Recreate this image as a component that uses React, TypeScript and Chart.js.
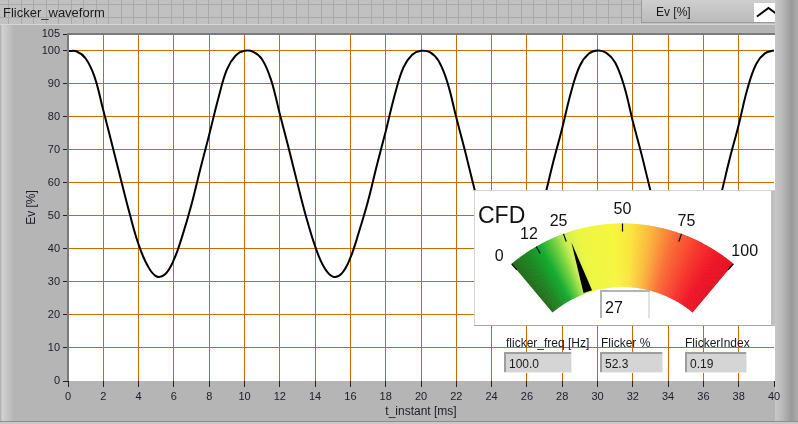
import React, { useEffect, useRef } from "react";
import { Chart, registerables } from "chart.js";

Chart.register(...registerables);

// ---------------- data ----------------
const timeMs = [
  0, 0.5, 1, 1.5, 2, 2.5, 3, 3.5, 4, 4.5,
  5, 5.5, 6, 6.5, 7, 7.5, 8, 8.5, 9, 9.5,
  10, 10.5, 11, 11.5, 12, 12.5, 13, 13.5, 14, 14.5,
  15, 15.5, 16, 16.5, 17, 17.5, 18, 18.5, 19, 19.5,
  20, 20.5, 21, 21.5, 22, 22.5, 23, 23.5, 24, 24.5,
  25, 25.5, 26, 26.5, 27, 27.5, 28, 28.5, 29, 29.5,
  30, 30.5, 31, 31.5, 32, 32.5, 33, 33.5, 34, 34.5,
  35, 35.5, 36, 36.5, 37, 37.5, 38, 38.5, 39, 39.5,
  40,
];
const evPercent = [
  99.85, 99.7, 97.6, 92.1, 81.9, 71.5, 60.9, 50.5, 41.3, 35.0,
  31.7, 32.3, 36.7, 44.3, 53.5, 64.2, 74.5, 85.2, 94.2, 98.5,
  99.9, 99.6, 97.3, 91.2, 80.8, 70.5, 59.8, 49.5, 40.8, 34.5,
  31.6, 32.5, 37.3, 45.4, 54.5, 65.3, 75.5, 86.3, 94.8, 98.7,
  99.9, 99.5, 96.8, 90.3, 79.7, 69.5, 58.7, 48.5, 40.1, 34.0,
  31.6, 32.8, 37.9, 45.6, 55.5, 66.4, 76.5, 87.4, 95.4, 99.0,
  100, 99.3, 96.4, 89.4, 78.6, 68.5, 57.6, 47.5, 39.2, 33.5,
  31.5, 33.0, 38.5, 46.5, 56.5, 67.5, 77.5, 88.5, 96.0, 99.2,
  100,
];
const xTickValues = [0, 2, 4, 6, 8, 10, 12, 14, 16, 18, 20, 22, 24, 26, 28, 30, 32, 34, 36, 38, 40];
const yTickValues = [0, 10, 20, 30, 40, 50, 60, 70, 80, 90, 100, 105];

const chartTitle = "Flicker_waveform";
const legendLabel = "Ev [%]";
const xAxisTitle = "t_instant [ms]";
const yAxisTitle = "Ev [%]";

const gaugeTitle = "CFD";
const gaugeValue = 27;
const gaugeTickValues = [0, 12.5, 25, 50, 75, 100];
const gaugeTickLabels = ["0", "12", "25", "50", "75", "100"];

const readoutLabels = ["flicker_freq [Hz]", "Flicker %", "FlickerIndex"];
const readoutValues = ["100.0", "52.3", "0.19"];

// ---------------- styling ----------------
const W = 798;
const H = 424;
const FONT = '"Liberation Sans", Arial, sans-serif';
const GRID = "#cc6a00";
const TEXT = "#1c1c2a";

const gaugeColorStops: [number, number[]][] = [
  [0, [36, 108, 30]],
  [7, [30, 135, 34]],
  [14, [20, 172, 50]],
  [20, [110, 208, 62]],
  [25, [205, 238, 84]],
  [31, [236, 246, 66]],
  [46, [246, 246, 62]],
  [54, [250, 228, 62]],
  [62, [250, 184, 62]],
  [72, [250, 112, 56]],
  [82, [248, 62, 46]],
  [92, [240, 22, 40]],
  [100, [228, 20, 36]],
];

function gaugeColor(v: number) {
  for (let i = 0; i < gaugeColorStops.length - 1; i++) {
    const [v0, c0] = gaugeColorStops[i];
    const [v1, c1] = gaugeColorStops[i + 1];
    if (v >= v0 && v <= v1) {
      const t = (v - v0) / (v1 - v0);
      const c = c0.map((x, k) => Math.round(x + (c1[k] - x) * t));
      return `rgb(${c[0]},${c[1]},${c[2]})`;
    }
  }
  const c = gaugeColorStops[gaugeColorStops.length - 1][1];
  return `rgb(${c[0]},${c[1]},${c[2]})`;
}

const G = { cx: 622.5, cy: 396, rOut: 172.5, rIn: 109 };
function gAngle(v: number) {
  return ((-130 + (80 * v) / 100) * Math.PI) / 180;
}

function bevelBox(ctx: CanvasRenderingContext2D, x: number, y: number, w: number, h: number, fill: string) {
  ctx.fillStyle = fill;
  ctx.fillRect(x, y, w, h);
  ctx.fillStyle = "#9e9e9e";
  ctx.fillRect(x, y, w, 2);
  ctx.fillRect(x, y, 2, h);
  ctx.fillStyle = "#ececec";
  ctx.fillRect(x, y + h - 1, w, 1);
  ctx.fillRect(x + w - 1, y, 1, h);
}

const labviewPlugin = {
  id: "labview",
  beforeDraw(chart: any) {
    const ctx: CanvasRenderingContext2D = chart.ctx;
    const a = chart.chartArea;
    ctx.save();
    ctx.fillStyle = "#b5b5b5";
    ctx.fillRect(0, 0, W, H);
    ctx.fillStyle = "#c1c1c1";
    ctx.fillRect(0, 0, W, 24);
    ctx.fillStyle = "#a9a9a9";
    for (let x = 8; x < 641; x += 12.5) ctx.fillRect(Math.round(x), 0, 1, 24);
    for (let y = 4; y < 24; y += 12.5) ctx.fillRect(0, Math.round(y), 641, 1);
    const lg = ctx.createLinearGradient(0, 0, 0, 24);
    lg.addColorStop(0, "#cfcfcf");
    lg.addColorStop(1, "#b9b9b9");
    ctx.fillStyle = lg;
    ctx.fillRect(641, 0, 150, 23);
    ctx.fillStyle = "#9a9a9a";
    ctx.fillRect(641, 0, 1, 23);
    ctx.fillRect(641, 22, 150, 1);
    ctx.fillStyle = "#ffffff";
    ctx.fillRect(754, 3, 29, 19);
    ctx.strokeStyle = "#000";
    ctx.lineWidth = 2;
    ctx.beginPath();
    ctx.moveTo(757, 16.5);
    ctx.lineTo(768.5, 8);
    ctx.lineTo(780, 16.5);
    ctx.stroke();
    ctx.fillStyle = "#d6d6d6";
    ctx.fillRect(0, 24, 776, 1);
    const lb = ctx.createLinearGradient(0, 0, 14, 0);
    lb.addColorStop(0, "#a8a8a8");
    lb.addColorStop(0.15, "#d2d2d2");
    lb.addColorStop(0.5, "#c6c6c6");
    lb.addColorStop(1, "#b5b5b5");
    ctx.fillStyle = lb;
    ctx.fillRect(0, 25, 14, H - 25);
    const rb = ctx.createLinearGradient(775, 0, 798, 0);
    rb.addColorStop(0, "#c9c9c9");
    rb.addColorStop(0.3, "#bababa");
    rb.addColorStop(0.72, "#9a9a9a");
    rb.addColorStop(1, "#acacac");
    ctx.fillStyle = rb;
    ctx.fillRect(775, 0, 23, H);
    ctx.fillStyle = "#8e8e8e";
    ctx.fillRect(0, 421, 798, 1);
    ctx.fillStyle = "#c8c8c8";
    ctx.fillRect(0, 422, 798, 2);
    ctx.fillStyle = "#ffffff";
    ctx.fillRect(a.left, a.top, a.right - a.left + 1, a.bottom - a.top);
    ctx.fillStyle = "#1a1a1a";
    ctx.font = `13px ${FONT}`;
    ctx.textBaseline = "alphabetic";
    ctx.textAlign = "left";
    ctx.fillText(chartTitle, 3, 17);
    ctx.font = `12px ${FONT}`;
    ctx.fillText(legendLabel, 656, 16);
    ctx.restore();
  },
  afterDatasetsDraw(chart: any) {
    const ctx: CanvasRenderingContext2D = chart.ctx;
    const a = chart.chartArea;
    ctx.save();
    ctx.fillStyle = "#7a7a7a";
    ctx.fillRect(a.left - 1, a.top - 1, a.right - a.left + 2, 2);
    ctx.fillRect(a.left - 1, a.top - 1, 2, a.bottom - a.top + 1);

    // gauge panel
    ctx.fillStyle = "#ffffff";
    ctx.fillRect(474, 190, 301, 136);
    ctx.fillStyle = "#d4d4d4";
    ctx.fillRect(474, 190, 301, 1);
    ctx.fillRect(474, 190, 1, 136);
    ctx.fillStyle = "#a6a6a6";
    ctx.fillRect(474, 325, 301, 1);
    ctx.fillStyle = "#c0c0c0";
    ctx.fillRect(771, 191, 4, 135);

    const N = 260;
    const aEnd = gAngle(100);
    for (let i = 0; i < N; i++) {
      const v0 = (i / N) * 100;
      const v1 = ((i + 1) / N) * 100;
      const a0 = gAngle(v0);
      const a1 = Math.min(gAngle(v1) + 0.004, aEnd);
      ctx.beginPath();
      ctx.arc(G.cx, G.cy, G.rOut, a0, a1);
      ctx.arc(G.cx, G.cy, G.rIn, a1, a0, true);
      ctx.closePath();
      ctx.fillStyle = gaugeColor((v0 + v1) / 2);
      ctx.fill();
    }
    ctx.strokeStyle = "#000";
    ctx.lineWidth = 1.2;
    ctx.fillStyle = "#111";
    ctx.font = `16px ${FONT}`;
    ctx.textAlign = "center";
    ctx.textBaseline = "middle";
    gaugeTickValues.forEach((v, i) => {
      const ang = gAngle(v);
      const c = Math.cos(ang);
      const s = Math.sin(ang);
      ctx.beginPath();
      ctx.moveTo(G.cx + c * G.rOut, G.cy + s * G.rOut);
      ctx.lineTo(G.cx + c * (G.rOut - 8), G.cy + s * (G.rOut - 8));
      ctx.stroke();
      const r = 187;
      let dx = 0;
      let dy = 1;
      if (v === 0) { dx = -3; dy = 4; }
      if (v === 100) { dx = 2; dy = -1; }
      ctx.fillText(gaugeTickLabels[i], G.cx + c * r + dx, G.cy + s * r + dy);
    });
    const na = gAngle(gaugeValue);
    const nc = Math.cos(na);
    const ns = Math.sin(na);
    const px = -ns;
    const py = nc;
    ctx.fillStyle = "#000";
    ctx.beginPath();
    ctx.moveTo(G.cx + nc * 162, G.cy + ns * 162);
    ctx.lineTo(G.cx + nc * (G.rIn + 1) + px * 4.5, G.cy + ns * (G.rIn + 1) + py * 4.5);
    ctx.lineTo(G.cx + nc * (G.rIn + 1) - px * 4.5, G.cy + ns * (G.rIn + 1) - py * 4.5);
    ctx.closePath();
    ctx.fill();
    ctx.textAlign = "left";
    ctx.textBaseline = "alphabetic";
    ctx.fillStyle = "#111";
    ctx.font = `23px ${FONT}`;
    ctx.fillText(gaugeTitle, 478, 223);
    ctx.fillStyle = "#ffffff";
    ctx.fillRect(600, 290, 50, 28);
    ctx.fillStyle = "#b4b4b4";
    ctx.fillRect(600, 290, 50, 2);
    ctx.fillRect(600, 290, 2, 28);
    ctx.fillStyle = "#e2e2e2";
    ctx.fillRect(648, 292, 2, 26);
    ctx.fillStyle = "#111";
    ctx.font = `16px ${FONT}`;
    ctx.fillText(String(gaugeValue), 605, 313);

    const lx = [506, 601, 685];
    const bx = [504, 600, 685];
    const bw = [68, 63, 62];
    ctx.font = `12px ${FONT}`;
    readoutLabels.forEach((t, i) => {
      ctx.fillStyle = "#1a1a1a";
      ctx.fillText(t, lx[i], 347);
      bevelBox(ctx, bx[i], 352, bw[i], 21, "#d5d5d5");
      ctx.fillStyle = "#1a1a1a";
      ctx.fillText(readoutValues[i], bx[i] + 5, 368);
    });

    ctx.fillStyle = TEXT;
    ctx.font = `12px ${FONT}`;
    ctx.textAlign = "center";
    ctx.textBaseline = "middle";
    ctx.fillText(xAxisTitle, (a.left + a.right) / 2, 412);
    ctx.save();
    ctx.translate(32, (a.top + a.bottom) / 2);
    ctx.rotate(-Math.PI / 2);
    ctx.fillText(yAxisTitle, 0, 0);
    ctx.restore();
    ctx.restore();
  },
};

export default function App() {
  const ref = useRef<HTMLCanvasElement | null>(null);
  useEffect(() => {
    if (!ref.current) return;
    const hide = (vals: number[]) => (c: any) =>
      c.tick && vals.includes(c.tick.value) ? "rgba(0,0,0,0)" : GRID;
    const chart = new Chart(ref.current, {
      type: "line",
      data: {
        datasets: [
          {
            label: legendLabel,
            data: timeMs.map((t, i) => ({ x: t, y: evPercent[i] })),
            borderColor: "#000",
            borderWidth: 2,
            pointRadius: 0,
            fill: false,
            tension: 0.4,
          },
        ],
      },
      options: {
        responsive: false,
        animation: false,
        devicePixelRatio: 1,
        layout: { padding: { top: 34, right: 24, left: 0, bottom: 0 } },
        plugins: {
          legend: { display: false },
          tooltip: { enabled: false },
          title: { display: false },
        },
        scales: {
          x: {
            type: "linear",
            min: 0,
            max: 40,
            afterBuildTicks: (s: any) => {
              s.ticks = xTickValues.map((v) => ({ value: v }));
            },
            afterFit: (s: any) => {
              s.height = 43;
            },
            grid: { color: hide([0, 40]), tickColor: "#222", tickLength: 6, lineWidth: 1 },
            border: { display: false },
            ticks: {
              color: TEXT,
              font: { family: FONT, size: 11 },
              padding: 3,
              maxRotation: 0,
              autoSkip: false,
            },
          },
          y: {
            type: "linear",
            min: 0,
            max: 105,
            afterBuildTicks: (s: any) => {
              s.ticks = yTickValues.map((v) => ({ value: v }));
            },
            afterFit: (s: any) => {
              s.width = 68;
            },
            grid: { color: hide([0, 105]), tickColor: "#222", tickLength: 5, lineWidth: 1 },
            border: { display: false },
            ticks: {
              color: TEXT,
              font: { family: FONT, size: 11 },
              padding: 3,
              autoSkip: false,
            },
          },
        },
      },
      plugins: [labviewPlugin],
    } as any);
    return () => chart.destroy();
  }, []);
  return (
    <div style={{ position: "absolute", left: 0, top: 0, width: W, height: H }}>
      <canvas ref={ref} width={W} height={H} style={{ display: "block" }} />
    </div>
  );
}
